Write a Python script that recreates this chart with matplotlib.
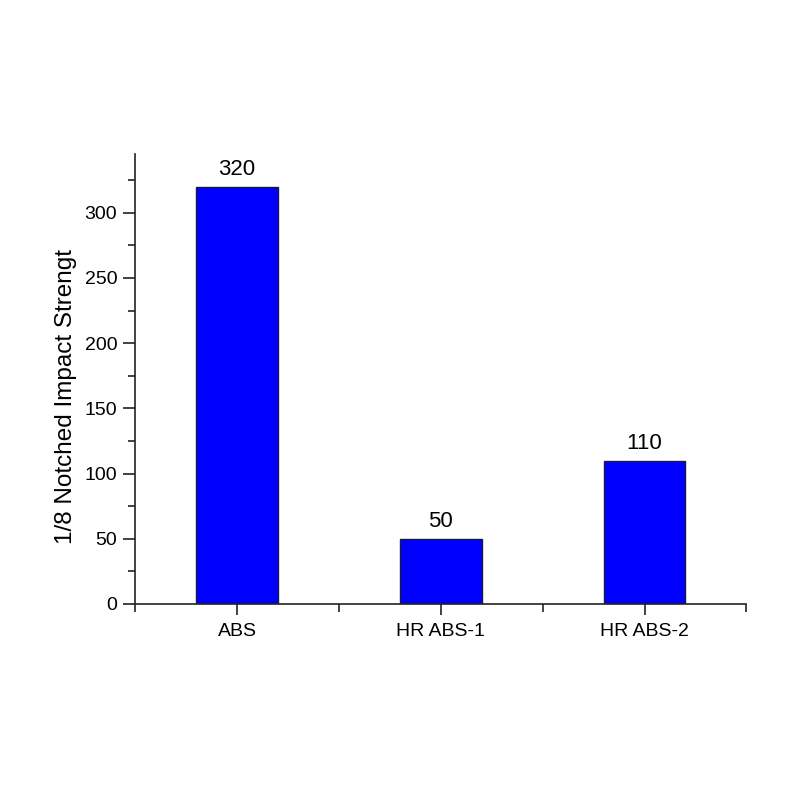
import matplotlib
matplotlib.use("Agg")
import matplotlib.pyplot as plt
from matplotlib.ticker import MultipleLocator

plt.rcParams['font.family'] = ['Liberation Sans', 'DejaVu Sans']

samples = ['ABS', 'HR ABS-1', 'HR ABS-2']
impact = [320, 50, 110]

fig = plt.figure(figsize=(8, 8), dpi=100)
ax = fig.add_axes([0.169, 0.245, 0.764, 0.5625])

x = range(len(samples))
bars = ax.bar(x, impact, width=0.4, color='#0000ff', edgecolor='#1a1a40', linewidth=1.0)
for b, v in zip(bars, impact):
    ax.text(b.get_x() + b.get_width() / 2, v + 5, str(v), ha='center', va='bottom', fontsize=16)

ax.set_xlim(-0.5, 2.5)
ax.set_ylim(0, 345)
ax.set_xticks(list(x))
ax.set_xticklabels(samples)
ax.xaxis.set_minor_locator(MultipleLocator(1, offset=0.5))
ax.yaxis.set_major_locator(MultipleLocator(50))
ax.yaxis.set_minor_locator(MultipleLocator(25))

for s in ['top', 'right']:
    ax.spines[s].set_visible(False)
for s in ['left', 'bottom']:
    ax.spines[s].set_linewidth(1.2)
    ax.spines[s].set_color('#222222')

ax.tick_params(axis='both', which='major', direction='out', labelsize=14, width=1.2, color='#222222')
ax.tick_params(axis='both', which='minor', direction='out', width=1.2, color='#222222')
ax.tick_params(axis='y', which='major', length=9, pad=4)
ax.tick_params(axis='y', which='minor', length=5)
ax.tick_params(axis='x', which='major', length=8, pad=6)
ax.tick_params(axis='x', which='minor', length=6)

ax.set_ylabel('1/8 Notched Impact Strengt', fontsize=17.5)
ax.yaxis.set_label_coords(-0.095, 0.46)

fig.savefig('out.png', dpi=100)
